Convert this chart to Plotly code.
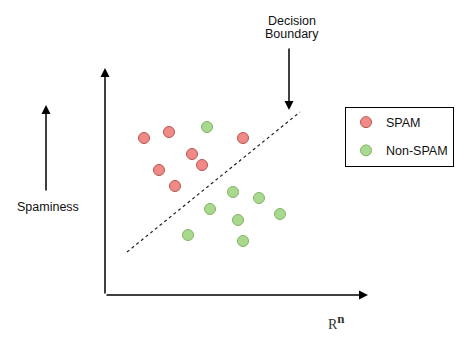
import plotly.graph_objects as go

# Feature-space samples (x: message features, y: spaminess), units of the plot axes
spam_x = [3.9, 6.4, 13.8, 8.7, 9.7, 5.4, 7.0]
spam_y = [15.7, 16.3, 15.7, 14.1, 13.0, 12.5, 10.9]

ham_x = [10.2, 12.8, 15.4, 10.5, 13.3, 17.5, 8.3, 13.8]
ham_y = [16.8, 10.3, 9.7, 8.6, 7.5, 8.1, 6.0, 5.4]

# Separating line endpoints
boundary_x = [2.2, 19.5]
boundary_y = [4.3, 18.3]

W, H = 474, 338
X_RANGE = [-10.5, 36.9]
Y_RANGE = [-4.3, 29.5]

fig = go.Figure()

fig.add_trace(go.Scatter(
    x=boundary_x, y=boundary_y, mode="lines",
    line=dict(color="#222222", width=1.2, dash="3px,3px"),
    showlegend=False, hoverinfo="skip",
))

fig.add_trace(go.Scatter(
    x=spam_x, y=spam_y, mode="markers", name="SPAM", legendgroup="a",
    marker=dict(size=11, color="#f08a87", line=dict(color="#b85450", width=1)),
))
fig.add_trace(go.Scatter(
    x=ham_x, y=ham_y, mode="markers", name="Non-SPAM", legendgroup="b",
    marker=dict(size=11, color="#a9d98e", line=dict(color="#82b366", width=1)),
))

arrow = dict(showarrow=True, arrowhead=2, arrowsize=1.2, arrowwidth=1.5,
             arrowcolor="#000000", axref="x", ayref="y", text="")

# Axes drawn as arrows from the origin
fig.add_annotation(x=26.3, y=0, ax=0, ay=0, **arrow)
fig.add_annotation(x=0, y=22.7, ax=0, ay=0, **arrow)
# Spaminess direction indicator
fig.add_annotation(x=-5.9, y=19.0, ax=-5.9, ay=10.3, **arrow)
# Pointer to the decision boundary
fig.add_annotation(x=18.4, y=18.5, ax=18.4, ay=24.8, **arrow)

font = dict(family="Liberation Sans, Arial, sans-serif", size=12.5, color="#111111")
fig.add_annotation(x=-5.7, y=8.8, text="Spaminess", showarrow=False, font=font)
fig.add_annotation(x=18.7, y=27.4, text="Decision", showarrow=False, font=font)
fig.add_annotation(x=18.7, y=26.1, text="Boundary", showarrow=False, font=font)
fig.add_annotation(
    x=22.1, y=-2.6, xanchor="left", showarrow=False,
    text="R<sup><span style='font-size:13px;font-weight:bold'>n</span></sup>",
    font=dict(family="Liberation Serif, serif", size=14, color="#333333"),
)

fig.update_layout(
    width=W, height=H,
    margin=dict(l=0, r=0, t=0, b=0),
    paper_bgcolor="white", plot_bgcolor="white",
    xaxis=dict(range=X_RANGE, visible=False, fixedrange=True),
    yaxis=dict(range=Y_RANGE, visible=False, fixedrange=True),
    legend=dict(
        x=345 / W, y=1 - 106.5 / H, xanchor="left", yanchor="top",
        bordercolor="#000000", borderwidth=1, bgcolor="white",
        font=font, tracegroupgap=9, itemwidth=30,
    ),
)

fig.write_html("out.html")
